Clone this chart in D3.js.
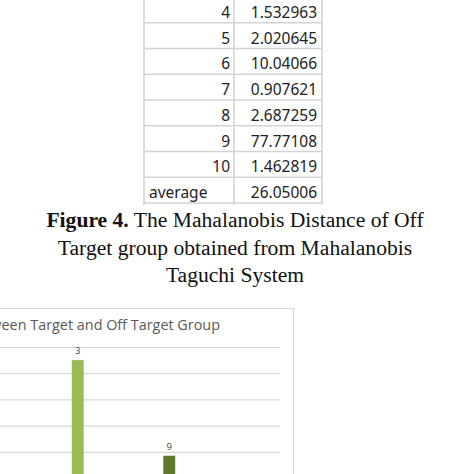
<!DOCTYPE html>
<html>
<head>
<meta charset="utf-8">
<script src="https://cdn.jsdelivr.net/npm/d3@7"></script>
<style>
  body { margin: 0; background: #fff; overflow: hidden; }
</style>
</head>
<body>
<script>
// table data (rows 1-3 are cut off above the picture)
var tableRows = ["4", "5", "6", "7", "8", "9", "10", "average"];
var tableValues = [1.532963, 2.020645, 10.04066, 0.907621, 2.687259, 77.77108, 1.462819, 26.05006];

// caption
var captionBold = "Figure 4.";
var captionLines = [" The Mahalanobis Distance of Off", "Target group obtained from Mahalanobis", "Taguchi System"];

// bar chart (only its top part is visible)
var chartTitle = "between Target and Off Target Group";
var barCategories = ["Target", "Off Target"];
var barLabels = ["3", "9"];
var barValues = [90, 17];
var barColors = ["#9bbb59", "#5f7a2c"];
var gridTicks = [0, 20, 40, 60, 80, 100];

var width = 474, height = 474;

var svg = d3.select("body")
  .append("svg")
  .attr("width", width)
  .attr("height", height);

//表格
var tableY = d3.scaleBand()
  .domain(tableRows)
  .range([-3, 203]);

var colX = [144, 234, 322];
var lineColor = "#d3d3d3";

var table = svg.append("g");

table.selectAll(".hline")
  .data(tableRows)
  .enter()
  .append("line")
  .attr("x1", colX[0])
  .attr("x2", colX[2])
  .attr("y1", function (d) { return tableY(d) + tableY.bandwidth(); })
  .attr("y2", function (d) { return tableY(d) + tableY.bandwidth(); })
  .attr("stroke", lineColor)
  .attr("stroke-width", 1.6);

table.selectAll(".vline")
  .data(colX)
  .enter()
  .append("line")
  .attr("x1", function (d) { return d; })
  .attr("x2", function (d) { return d; })
  .attr("y1", -3)
  .attr("y2", 205)
  .attr("stroke", lineColor)
  .attr("stroke-width", 1.6);

var fmt = d3.format(".7~g");

table.selectAll(".rowlabel")
  .data(tableRows)
  .enter()
  .append("text")
  .attr("x", function (d) { return d === "average" ? colX[0] + 5 : colX[1] - 4; })
  .attr("y", function (d) { return tableY(d) + tableY.bandwidth() - 5; })
  .attr("text-anchor", function (d) { return d === "average" ? "start" : "end"; })
  .style("font-family", "'Noto Sans', sans-serif")
  .style("font-size", "15.5px")
  .attr("fill", "#222")
  .text(function (d) { return d; });

table.selectAll(".rowvalue")
  .data(tableValues)
  .enter()
  .append("text")
  .attr("x", colX[2] - 5)
  .attr("y", function (d, i) { return tableY(tableRows[i]) + tableY.bandwidth() - 5; })
  .attr("text-anchor", "end")
  .style("font-family", "'Noto Sans', sans-serif")
  .style("font-size", "15.5px")
  .attr("fill", "#222")
  .text(function (d) { return fmt(d); });

//图注
var caption = svg.append("g")
  .style("font-family", "'Liberation Serif', 'Times New Roman', serif")
  .style("font-size", "21.6px")
  .attr("fill", "#111");

var first = caption.append("text")
  .attr("x", 235)
  .attr("y", 227)
  .attr("text-anchor", "middle");
first.append("tspan").style("font-weight", "bold").text(captionBold);
first.append("tspan").text(captionLines[0]);

caption.selectAll(".cap")
  .data(captionLines.slice(1))
  .enter()
  .append("text")
  .attr("x", 235)
  .attr("y", function (d, i) { return 254.5 + i * 27; })
  .attr("text-anchor", "middle")
  .text(function (d) { return d; });

//柱状图边框
svg.append("path")
  .attr("d", "M-5,308.5H293.5V480")
  .attr("fill", "none")
  .attr("stroke", "#d9d9d9")
  .attr("stroke-width", 1.2);

svg.append("text")
  .attr("x", 220)
  .attr("y", 330)
  .attr("text-anchor", "end")
  .style("font-family", "'Open Sans', 'Noto Sans', sans-serif")
  .style("font-size", "14.4px")
  .attr("fill", "#595959")
  .text(chartTitle);

var xScale = d3.scaleBand()
  .domain(barCategories)
  .range([32, 215]);

var yScale = d3.scaleLinear()
  .domain([0, 100])
  .range([478, 347]);

//网格线
var grid = d3.axisLeft(yScale)
  .tickValues(gridTicks)
  .tickSize(300)
  .tickFormat("");

svg.append("g")
  .attr("transform", "translate(280,0)")
  .call(grid)
  .call(function (g) { g.select(".domain").remove(); })
  .selectAll("line")
  .attr("stroke", "#d9d9d9")
  .attr("stroke-width", 1.2);

var barWidth = xScale.bandwidth() * 0.13;

svg.selectAll(".bar")
  .data(barValues)
  .enter()
  .append("rect")
  .attr("x", function (d, i) { return xScale(barCategories[i]) + xScale.bandwidth() / 2 - barWidth / 2; })
  .attr("y", function (d) { return yScale(d); })
  .attr("width", barWidth)
  .attr("height", function (d) { return yScale(0) - yScale(d); })
  .attr("fill", function (d, i) { return barColors[i]; });

svg.selectAll(".barlabel")
  .data(barValues)
  .enter()
  .append("text")
  .attr("x", function (d, i) { return xScale(barCategories[i]) + xScale.bandwidth() / 2; })
  .attr("y", function (d) { return yScale(d) - 6; })
  .attr("text-anchor", "middle")
  .style("font-family", "'Open Sans', 'Noto Sans', sans-serif")
  .style("font-size", "9.5px")
  .attr("fill", "#404040")
  .text(function (d, i) { return barLabels[i]; });
</script>
</body>
</html>
